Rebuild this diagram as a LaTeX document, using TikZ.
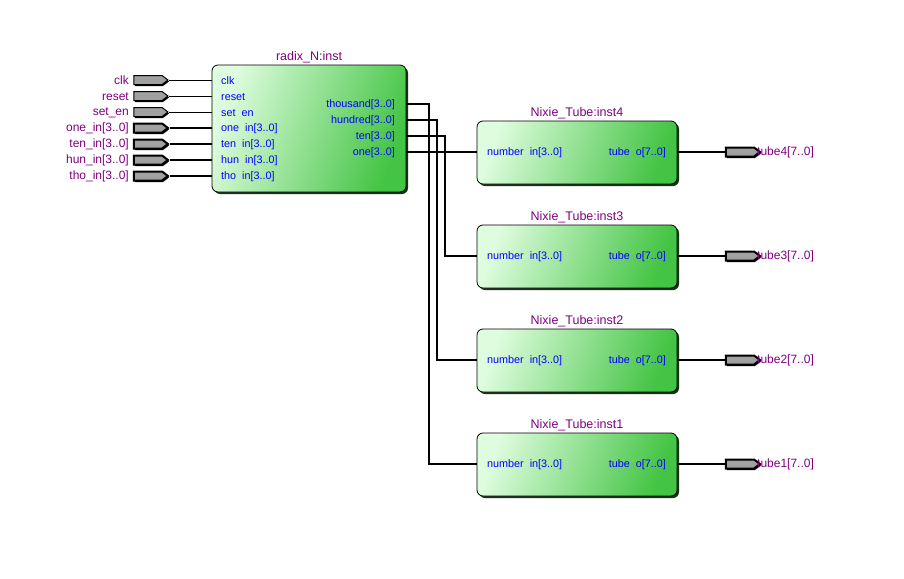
\documentclass[tikz,border=0pt]{standalone}
\usepackage{fontspec}
\setmainfont{Liberation Sans}
\usetikzlibrary{positioning,shadows,shapes.symbols}

\definecolor{pinname}{RGB}{128,0,128}
\definecolor{portname}{RGB}{0,0,255}
\definecolor{blklight}{RGB}{222,252,222}
\definecolor{blkdark}{RGB}{68,196,68}
\definecolor{pingray}{RGB}{160,160,160}
\definecolor{blkshadow}{RGB}{20,50,20}

\tikzset{
  blk/.style={draw=black, line width=0.8pt, rounded corners=6pt,
    left color=blklight, right color=blkdark, shading angle=70,
    drop shadow={shadow xshift=2pt, shadow yshift=-2pt, fill=blkshadow, opacity=1}},
  pin/.style={signal, signal to=east, signal pointer angle=75, draw=black,
    fill=pingray, minimum width=34pt, minimum height=9pt, inner sep=0pt,
    drop shadow={shadow xshift=1pt, shadow yshift=-1.5pt, fill=black, opacity=1}},
  wire/.style={line width=1pt},
  bus/.style={line width=2pt},
  title/.style={text=pinname, inner sep=0pt, font=\fontsize{12.5}{14}\selectfont},
  pinlbl/.style={text=pinname, inner sep=0pt, yshift=-0.5pt, font=\fontsize{12}{14}\selectfont},
  portlbl/.style={text=portname, inner sep=0pt, yshift=-1pt, font=\fontsize{10.8}{12}\selectfont}
}

\begin{document}
\begin{tikzpicture}[x=1pt,y=-1pt]
  \useasboundingbox (0,0) rectangle (904,578);
  \def\dy{16}

  %radix block
  \node[blk, minimum width=194pt, minimum height=127pt] (radix) at (309,128.5) {};
  \node[title, above=1.5pt of radix] (radixt) {radix\_N:inst};

  %input pins
  \foreach \i/\txt/\port/\name/\w in {0/clk/clk/clk/wire, 1/reset/reset/reset/wire,
      2/set\_en/set\ \ en/set/wire, 3/one\_in[3..0]/one\ \ in[3..0]/onein/bus,
      4/ten\_in[3..0]/ten\ \ in[3..0]/tenin/bus, 5/hun\_in[3..0]/hun\ \ in[3..0]/hunin/bus,
      6/tho\_in[3..0]/tho\ \ in[3..0]/thoin/bus}{
    \node[pin, \w] (pin-\name) at (148, 80+\i*\dy) {};
    \node[pinlbl, anchor=east] (lbl-\name) at (129, 80+\i*\dy) {\txt};
    \node[portlbl, anchor=west] (port-\name) at (221, 80+\i*\dy) {\port};
    \coordinate (in-\name) at (212, 80+\i*\dy);
    \draw[\w] (pin-\name.east) -- (in-\name);
  }

  %output ports
  \foreach \i/\port/\name in {0/thousand[3..0]/thousand, 1/hundred[3..0]/hundred,
      2/ten[3..0]/ten, 3/one[3..0]/one}{
    \node[portlbl, anchor=east] (port-\name) at (395, 104+\i*\dy) {\port};
    \coordinate (out-\name) at (406, 104+\i*\dy);
  }

  %nixie tubes
  \foreach \k/\yy in {4/152, 3/256, 2/360, 1/464}{
    \node[blk, minimum width=200pt, minimum height=63pt] (nixie\k) at (577, \yy+0.5) {};
    \node[title, above=1.5pt of nixie\k] (nixiet\k) {Nixie\_Tube:inst\k};
    \node[portlbl, anchor=west] (num\k) at (487, \yy) {number\ \ in[3..0]};
    \node[portlbl, anchor=east] (tubeo\k) at (666, \yy) {tube\ \ o[7..0]};
    \node[pin, bus] (pin-tube\k) at (740, \yy) {};
    \node[pinlbl, anchor=west] (lbl-tube\k) at (757, \yy) {tube\k[7..0]};
    \coordinate (nin\k) at (477, \yy);
    \coordinate (nout\k) at (677, \yy);
    \draw[bus] (nout\k) -- (pin-tube\k.west);
  }

  %buses to the tubes
  \draw[bus] (out-one) -- (nin4);
  \draw[bus] (out-ten) -- ++(39,0) |- (nin3);
  \draw[bus] (out-hundred) -- ++(31,0) |- (nin2);
  \draw[bus] (out-thousand) -- ++(23,0) |- (nin1);
\end{tikzpicture}
\end{document}
